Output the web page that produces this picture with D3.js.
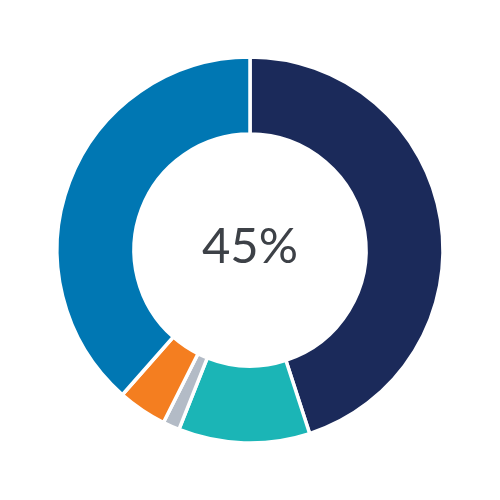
<!DOCTYPE html>
<html lang="en">
<head>
    <meta charset="UTF-8" />
    <title>Donut</title>
    <script src="https://d3js.org/d3.v7.min.js"></script>
    <style>
        body { margin: 0; background: #fff; }
    </style>
</head>
<body>
    <div id="chart"></div>
    <script>
// Slice data, clockwise from 12 o'clock
var categories = ["A", "B", "C", "D", "E"];
var values = [45, 11, 1.4, 4.1, 38.5];
var colors = ["#1b2a5a", "#1bb5b6", "#b3bbc6", "#f47e20", "#0077b3"];
var centerLabel = "45%";

var width = 500, height = 500;
var outerR = 193, innerR = 116;

var svg = d3.select("#chart").append("svg")
    .attr("width", width)
    .attr("height", height)
    .append("g")
    .attr("transform", "translate(250,250)");

var pie = d3.pie().sort(null).value(function(d) { return d; });
var arc = d3.arc().innerRadius(innerR).outerRadius(outerR);

svg.selectAll("path")
    .data(pie(values))
    .enter()
    .append("path")
    .attr("d", arc)
    .attr("fill", function(d, i) { return colors[i]; })
    .attr("stroke", "#fff")
    .attr("stroke-width", 3.5);

svg.append("text")
    .attr("x", 0)
    .attr("y", 13)
    .attr("text-anchor", "middle")
    .style("font-family", "Lato")
    .style("font-size", "49px")
    .style("fill", "#3d4147")
    .text(centerLabel);
    </script>
</body>
</html>
